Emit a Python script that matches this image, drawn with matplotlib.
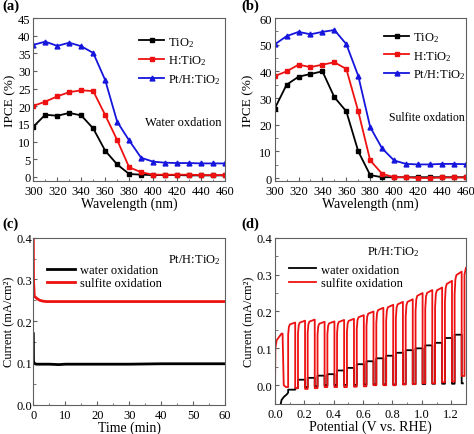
import matplotlib
matplotlib.use('Agg')
import matplotlib.pyplot as plt
from matplotlib.ticker import MultipleLocator

plt.rcParams['font.family'] = ['Liberation Serif', 'DejaVu Serif']
plt.rcParams['mathtext.fontset'] = 'custom'
plt.rcParams['mathtext.rm'] = 'Liberation Serif'
plt.rcParams['mathtext.it'] = 'Liberation Serif:italic'

# ---- (a) IPCE, water oxidation ----
wl = [300, 310, 320, 330, 340, 350, 360, 370, 380, 390, 400, 410, 420, 430, 440, 450, 460]
a_tio2 = [14.2, 17.6, 17.3, 18.1, 17.4, 13.7, 7.4, 3.5, 0.8, 0.6, 0.5, 0.5, 0.5, 0.4, 0.4, 0.4, 0.4]
a_htio2 = [20.1, 21.3, 22.8, 24.0, 24.5, 24.3, 17.5, 10.4, 2.7, 1.3, 0.6, 0.6, 0.6, 0.6, 0.5, 0.5, 0.5]
a_pt = [37.4, 38.3, 37.1, 38.0, 37.0, 35.1, 27.4, 15.6, 10.3, 5.4, 4.3, 4.0, 3.9, 3.9, 3.8, 3.8, 3.8]

# ---- (b) IPCE, sulfite oxidation ----
b_tio2 = [26.0, 35.0, 38.0, 39.0, 40.0, 30.3, 25.0, 10.0, 1.1, 0.3, 0.3, 0.3, 0.3, 0.3, 0.3, 0.3, 0.3]
b_htio2 = [38.2, 40.0, 42.5, 41.6, 42.5, 43.4, 40.9, 25.0, 6.6, 1.6, 0.3, 0.3, 0.0, 0.0, 0.2, 0.2, 0.2]
b_pt = [50.1, 53.2, 54.8, 53.9, 54.8, 55.5, 50.2, 38.3, 19.1, 11.1, 6.6, 5.3, 5.1, 5.1, 5.3, 5.3, 5.2]

# ---- (c) current vs time ----
t_water = [0, 0.05, 0.2, 0.5, 1, 2, 5, 8, 10, 20, 30, 40, 50, 60]
i_water = [0.17, 0.105, 0.100, 0.098, 0.097, 0.097, 0.097, 0.096, 0.097, 0.097, 0.097, 0.098, 0.098, 0.098]
t_sulf = [0, 0.05, 0.3, 1, 2, 3, 4, 6, 10, 20, 30, 40, 50, 60]
i_sulf = [0.40, 0.30, 0.260, 0.255, 0.250, 0.248, 0.247, 0.247, 0.247, 0.247, 0.247, 0.247, 0.247, 0.247]

# ---- (d) chopped-light LSV ----
light_on = [0.090, 0.157, 0.223, 0.290, 0.357, 0.423, 0.490, 0.557, 0.623, 0.690,
            0.757, 0.823, 0.890, 0.957, 1.023, 1.090, 1.157, 1.223]
light_off = [0.138, 0.205, 0.271, 0.338, 0.405, 0.471, 0.538, 0.605, 0.671, 0.738,
             0.805, 0.871, 0.938, 1.005, 1.071, 1.138, 1.205, 1.271]
red_peak = [0.170, 0.175, 0.178, 0.172, 0.173, 0.177, 0.180, 0.190, 0.200, 0.210,
            0.218, 0.226, 0.233, 0.250, 0.258, 0.265, 0.283, 0.308]
red_dark = [-0.008, -0.010, -0.008, -0.005, -0.005, -0.005, -0.004, -0.003, 0.000, 0.000,
            0.000, 0.002, 0.003, 0.005, 0.005, 0.008, 0.010, 0.025]
red_start_v = [0.0, 0.003, 0.012, 0.045, 0.052, 0.060, 0.075, 0.090]
red_start_i = [-0.05, 0.100, 0.122, 0.140, 0.140, 0.000, -0.005, -0.005]
red_end_v = [1.290, 1.290, 1.300]
red_end_i = [0.025, 0.300, 0.318]
black_peak = [-0.012, 0.015, 0.020, 0.026, 0.030, 0.040, 0.047, 0.057, 0.065, 0.073,
              0.080, 0.088, 0.095, 0.100, 0.108, 0.115, 0.128, 0.137]
black_dark = [-0.008, -0.005, -0.003, 0.000, 0.000, 0.001, 0.001, 0.002, 0.002, 0.002,
              0.002, 0.003, 0.003, 0.003, 0.004, 0.004, 0.004, 0.005]
black_start_v = [0.040, 0.045, 0.060, 0.080, 0.090]
black_start_i = [-0.050, -0.040, -0.032, -0.025, -0.020]


def chop_trace(start_v, start_i, peaks, darks, rounded):
    v, i = list(start_v), list(start_i)
    for on, off, pk, dk in zip(light_on, light_off, peaks, darks):
        v.append(on)
        i.append(i[-1])
        if rounded:
            v += [on, on + 0.005, on + 0.012]
            i += [0.80 * pk, 0.93 * pk, 0.97 * pk]
        else:
            v.append(on)
            i.append(pk)
        v += [off, off, off + 0.008]
        i += [pk, dk, dk]
    return v, i


fig = plt.figure(figsize=(4.74, 4.35), dpi=100)
ax_a = fig.add_axes([0.0703, 0.5823, 0.4044, 0.374])
ax_b = fig.add_axes([0.5795, 0.5823, 0.403, 0.374])
ax_c = fig.add_axes([0.0703, 0.0674, 0.4044, 0.3839])
ax_d = fig.add_axes([0.580, 0.0697, 0.403, 0.3816])

fs_tick = 9
fs_lab = 10
fs_ylab = 9.5

for ax in (ax_a, ax_b, ax_c, ax_d):
    for sp in ax.spines.values():
        sp.set_color('#606060')
        sp.set_linewidth(0.8)
    ax.tick_params(which='both', direction='in', colors='#606060', labelcolor='black',
                   labelsize=fs_tick, pad=2)
    ax.tick_params(axis='x', which='both', pad=3)
    ax.tick_params(which='major', length=3)
    ax.tick_params(which='minor', length=1.8)

# (a)
ax_a.plot(wl, a_tio2, 's-', color='black', lw=1.3, ms=3, label='TiO$_2$')
ax_a.plot(wl, a_htio2, 's-', color='#ee1111', lw=1.3, ms=3, label='H:TiO$_2$')
ax_a.plot(wl, a_pt, '^-', color='#1515dd', lw=1.3, ms=3.5, label='Pt/H:TiO$_2$')
ax_a.set_xlim(300, 460)
ax_a.set_ylim(-1.1, 45)
ax_a.xaxis.set_major_locator(MultipleLocator(20))
ax_a.xaxis.set_minor_locator(MultipleLocator(10))
ax_a.yaxis.set_major_locator(MultipleLocator(5))
ax_a.set_xlabel('Wavelength (nm)', fontsize=fs_lab, labelpad=0)
ax_a.set_ylabel('IPCE (%)', fontsize=fs_ylab)
ax_a.yaxis.set_label_coords(-0.09, 0.5)
ax_a.text(393, 15.5, 'Water oxdation', fontsize=fs_tick, va='center')
ax_a.legend(loc='upper left', bbox_to_anchor=(0.52, 0.935), frameon=False,
            fontsize=fs_tick, handlelength=2.0, handletextpad=0.3, labelspacing=0.4,
            borderpad=0)

# (b)
ax_b.plot(wl, b_tio2, 's-', color='black', lw=1.3, ms=3, label='TiO$_2$')
ax_b.plot(wl, b_htio2, 's-', color='#ee1111', lw=1.3, ms=3, label='H:TiO$_2$')
ax_b.plot(wl, b_pt, '^-', color='#1515dd', lw=1.3, ms=3.5, label='Pt/H:TiO$_2$')
ax_b.set_xlim(300, 460)
ax_b.set_ylim(-1, 60)
ax_b.xaxis.set_major_locator(MultipleLocator(20))
ax_b.xaxis.set_minor_locator(MultipleLocator(10))
ax_b.yaxis.set_major_locator(MultipleLocator(10))
ax_b.yaxis.set_minor_locator(MultipleLocator(5))
ax_b.set_xlabel('Wavelength (nm)', fontsize=fs_lab, labelpad=0)
ax_b.set_ylabel('IPCE (%)', fontsize=fs_ylab)
ax_b.yaxis.set_label_coords(-0.105, 0.5)
ax_b.text(395.5, 22.8, 'Sulfite oxdation', fontsize=8.5, va='center')
ax_b.legend(loc='upper left', bbox_to_anchor=(0.54, 0.965), frameon=False,
            fontsize=fs_tick, handlelength=2.0, handletextpad=0.3, labelspacing=0.4,
            borderpad=0)

# (c)
ax_c.plot(t_water, i_water, color='black', lw=2, label='water oxidation')
ax_c.plot(t_sulf, i_sulf, color='#ee1111', lw=2, label='sulfite oxidation')
ax_c.set_xlim(0, 60)
ax_c.set_ylim(0, 0.4)
ax_c.xaxis.set_major_locator(MultipleLocator(10))
ax_c.xaxis.set_minor_locator(MultipleLocator(5))
ax_c.yaxis.set_major_locator(MultipleLocator(0.1))
ax_c.yaxis.set_minor_locator(MultipleLocator(0.05))
ax_c.yaxis.set_major_formatter(plt.FormatStrFormatter('%.1f'))
ax_c.tick_params(axis='y', which='both', pad=1)
ax_c.set_xlabel('Time (min)', fontsize=fs_lab, labelpad=0)
ax_c.set_ylabel('Current (mA/cm²)', fontsize=9)
ax_c.yaxis.set_label_coords(-0.092, 0.5)
ax_c.text(0.70, 0.87, 'Pt/H:TiO$_2$', transform=ax_c.transAxes, fontsize=fs_tick, va='center')
ax_c.legend(loc='upper left', bbox_to_anchor=(0.04, 0.88), frameon=False,
            fontsize=fs_tick, handlelength=2.2, handletextpad=0.4, labelspacing=0.1,
            borderpad=0)

# (d)
wv, wi = chop_trace(black_start_v, black_start_i, black_peak, black_dark, False)
sv, si = chop_trace(red_start_v, red_start_i, red_peak, red_dark, True)
sv += red_end_v
si += red_end_i
ax_d.plot(wv, wi, color='black', lw=1.3, label='water oxidation')
ax_d.plot(sv, si, color='#ee1111', lw=1.3, label='sulfite oxidation')
ax_d.set_xlim(0, 1.3)
ax_d.set_ylim(-0.05, 0.4)
ax_d.xaxis.set_major_locator(MultipleLocator(0.2))
ax_d.xaxis.set_minor_locator(MultipleLocator(0.1))
ax_d.yaxis.set_major_locator(MultipleLocator(0.1))
ax_d.yaxis.set_minor_locator(MultipleLocator(0.05))
ax_d.xaxis.set_major_formatter(plt.FormatStrFormatter('%.1f'))
ax_d.yaxis.set_major_formatter(plt.FormatStrFormatter('%.1f'))
ax_d.set_xlabel('Potential (V vs. RHE)', fontsize=fs_lab, labelpad=0)
ax_d.set_ylabel('Current (mA/cm²)', fontsize=9)
ax_d.yaxis.set_label_coords(-0.105, 0.5)
ax_d.text(0.48, 0.92, 'Pt/H:TiO$_2$', transform=ax_d.transAxes, fontsize=fs_tick, va='center')
ax_d.legend(loc='upper left', bbox_to_anchor=(0.04, 0.88), frameon=False,
            fontsize=fs_tick, handlelength=2.2, handletextpad=0.4, labelspacing=0.1,
            borderpad=0)

# panel letters
for x, y, s in [(0.004, 0.985, '(a)'), (0.51, 0.985, '(b)'),
                (0.004, 0.485, '(c)'), (0.51, 0.485, '(d)')]:
    fig.text(x, y, s, fontsize=10.5, fontweight='bold', va='center')

fig.savefig('out.png', dpi=100)
